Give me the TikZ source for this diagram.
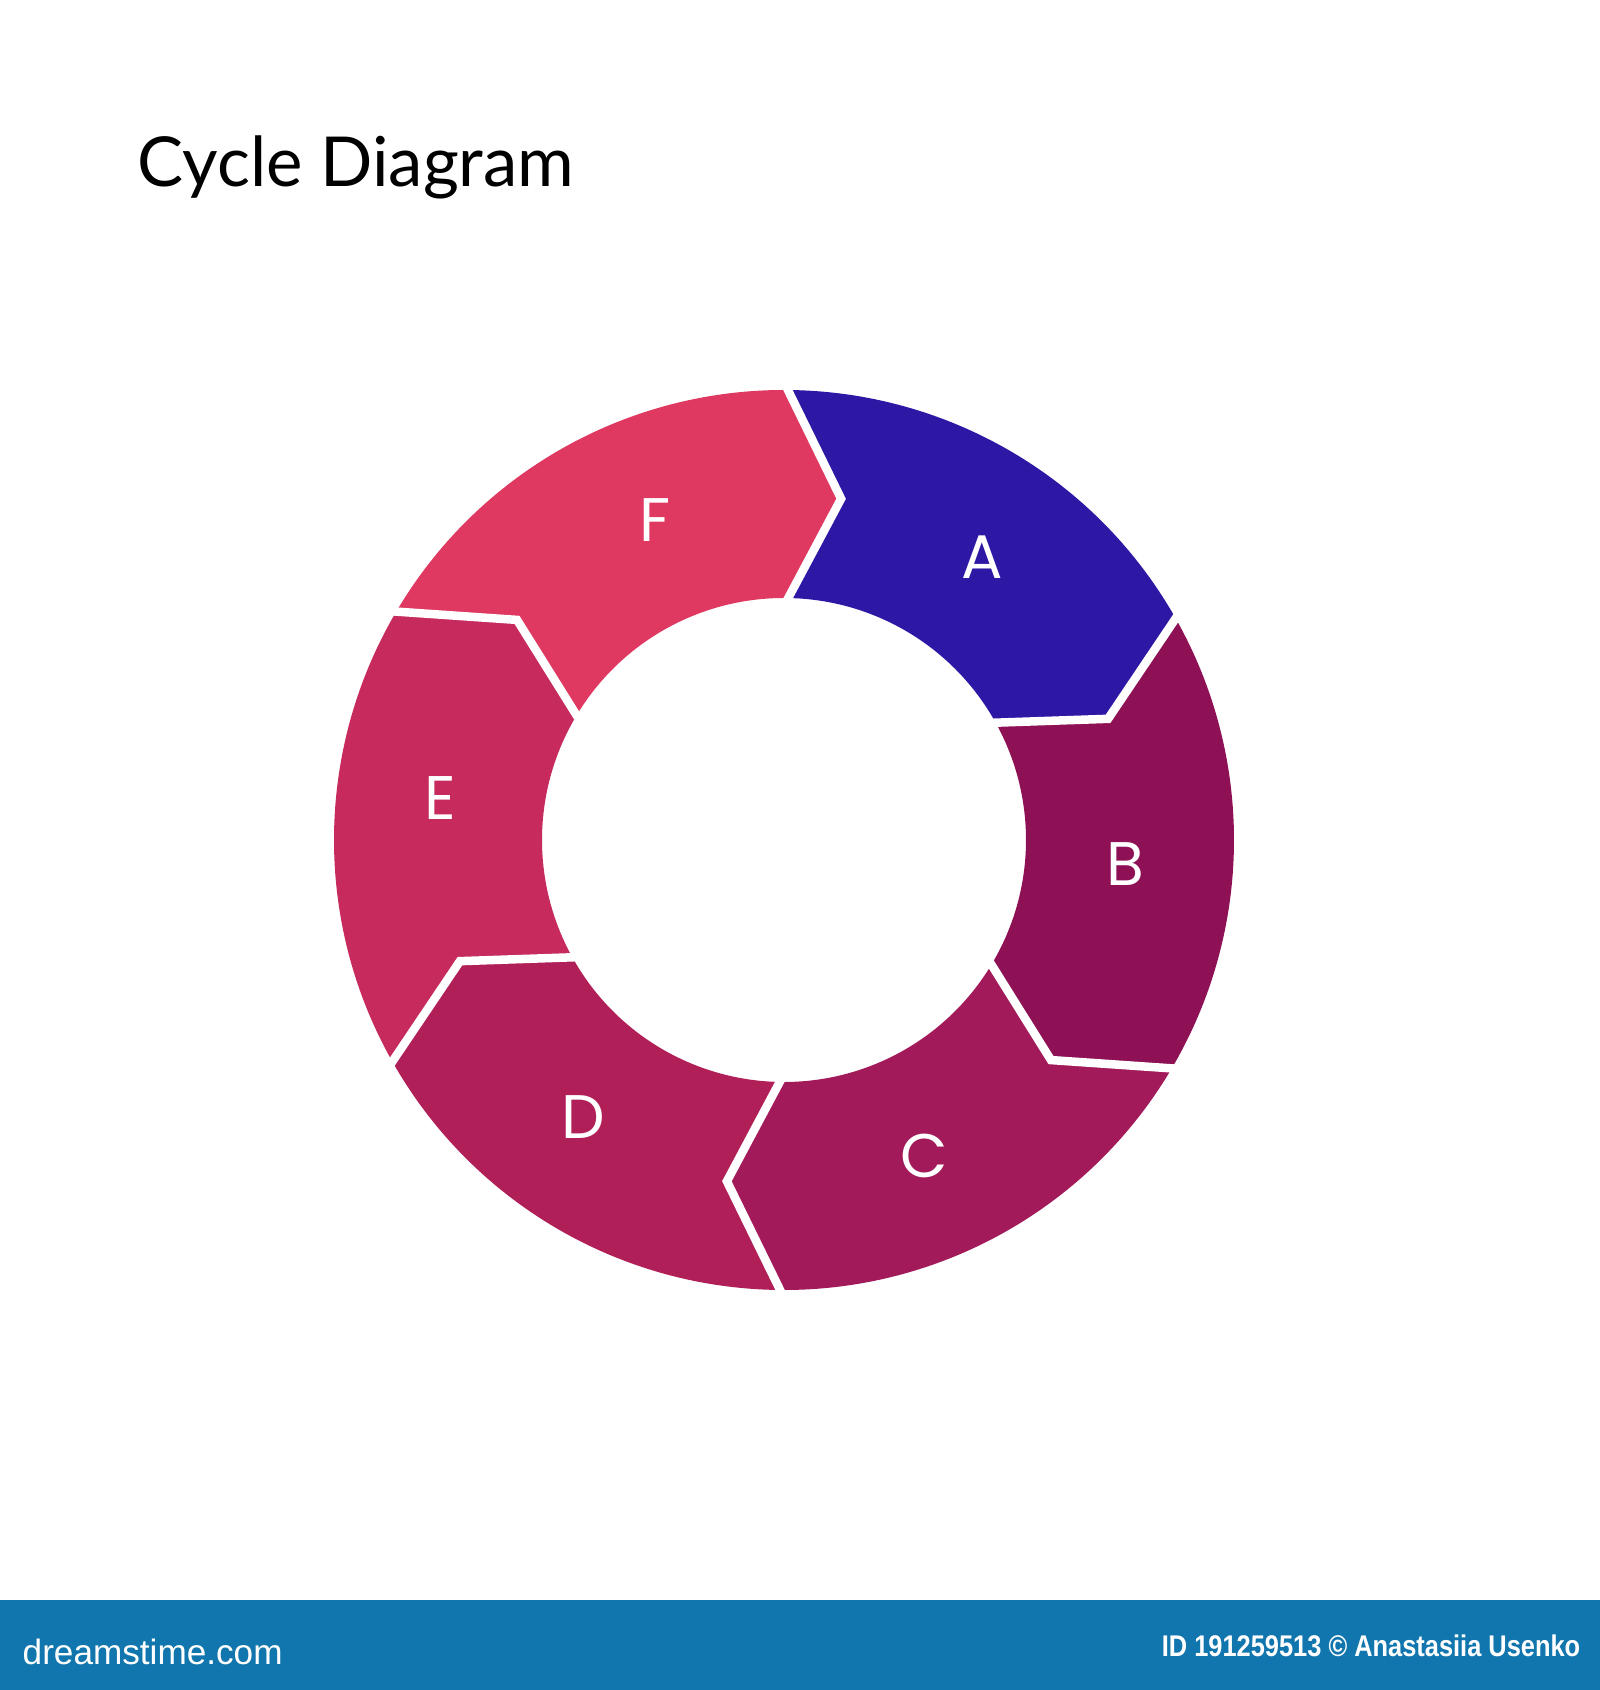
\documentclass[tikz,border=0pt]{standalone}
\usepackage{fontspec}
\usepackage{tikz}
\setmainfont{Lato}
\newfontfamily\letterfont{Poppins}
\newfontfamily\barfont{Liberation Sans}
\definecolor{segA}{HTML}{2D18A6}
\definecolor{segB}{HTML}{8E1055}
\definecolor{segC}{HTML}{A31A5A}
\definecolor{segD}{HTML}{B11F59}
\definecolor{segE}{HTML}{C72A5C}
\definecolor{segF}{HTML}{DF3962}
\definecolor{barblue}{HTML}{1176AE}

\begin{document}
\begin{tikzpicture}[x=0.01cm, y=0.01cm, gap/.style = {white, line width=0.085cm}, lab/.style = {text=white, font=\letterfont\fontsize{17.5}{20}\selectfont}, title/.style = {inner sep=0pt, font=\fontsize{19.6}{23}\selectfont}, bartext/.style = {inner sep=0pt, text=white, font=\barfont\bfseries\fontsize{8.5}{10}\selectfont}, logotext/.style = {inner sep=0pt, text=white, font=\barfont\fontsize{10}{12}\selectfont}]
\useasboundingbox (0,0) rectangle (1600,1690);
\fill[barblue] (0,0) rectangle (1600,90);
\node[title, anchor=base west] (title) at (137,1503) {Cycle Diagram};
\begin{scope}[shift={(784,850)}]
\fill[segA] (90:450) arc[start angle=90, end angle=30, radius=450] -- (20.5:346) -- (30:242) arc[start angle=30, end angle=90, radius=242] -- (80.5:346) -- cycle;
\fill[segB] (30:450) arc[start angle=30, end angle=-30, radius=450] -- (-39.5:346) -- (-30:242) arc[start angle=-30, end angle=30, radius=242] -- (20.5:346) -- cycle;
\fill[segC] (-30:450) arc[start angle=-30, end angle=-90, radius=450] -- (-99.5:346) -- (-90:242) arc[start angle=-90, end angle=-30, radius=242] -- (-39.5:346) -- cycle;
\fill[segD] (270:450) arc[start angle=270, end angle=210, radius=450] -- (200.5:346) -- (210:242) arc[start angle=210, end angle=270, radius=242] -- (260.5:346) -- cycle;
\fill[segE] (210:450) arc[start angle=210, end angle=150, radius=450] -- (140.5:346) -- (150:242) arc[start angle=150, end angle=210, radius=242] -- (200.5:346) -- cycle;
\fill[segF] (150:450) arc[start angle=150, end angle=90, radius=450] -- (80.5:346) -- (90:242) arc[start angle=90, end angle=150, radius=242] -- (140.5:346) -- cycle;
\draw[gap] (90:458) -- (80.5:346) -- (90:234);
\draw[gap] (30:458) -- (20.5:346) -- (30:234);
\draw[gap] (-30:458) -- (-39.5:346) -- (-30:234);
\draw[gap] (270:458) -- (260.5:346) -- (270:234);
\draw[gap] (210:458) -- (200.5:346) -- (210:234);
\draw[gap] (150:458) -- (140.5:346) -- (150:234);
\node[lab] (A) at (55:345) {A};
\node[lab] (B) at (-4:342) {B};
\node[lab] (C) at (-66:346) {C};
\node[lab] (D) at (234:342) {D};
\node[lab] (E) at (173:346) {E};
\node[lab] (F) at (112:345) {F};
\end{scope}
\node[bartext, anchor=east] (credit) at (1581,44) {\scalebox{0.85}[1]{ID 191259513 © Anastasiia Usenko}};
\node[logotext, anchor=west] (logo) at (22,38) {dreamstime.com};
\end{tikzpicture}
\end{document}
